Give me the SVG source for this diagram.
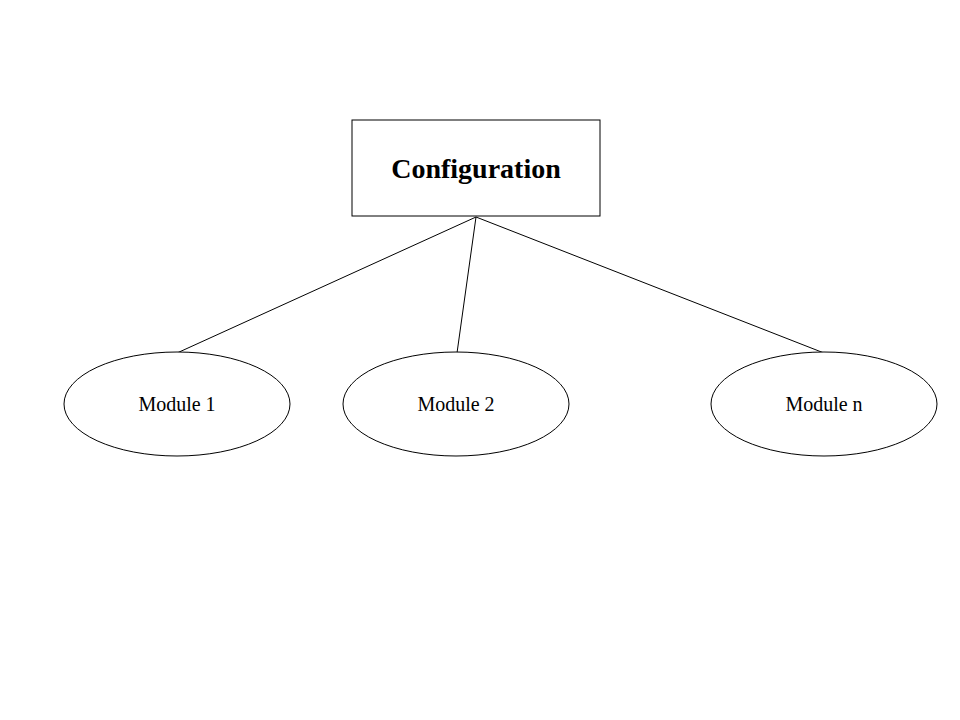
<svg xmlns="http://www.w3.org/2000/svg" width="960" height="720" viewBox="0 0 960 720">
<style>
.s{fill:#fff;stroke:#000;stroke-width:1}
.t{font-family:"Liberation Serif",serif;font-size:20px;text-anchor:middle}
.b{font-size:28px;font-weight:bold}
line{stroke:#000;stroke-width:1}
</style>
<rect width="960" height="720" fill="#fff"/>
<g id="connectors">
<line x1="476" y1="217" x2="177" y2="353"/>
<line x1="476" y1="217" x2="457" y2="353"/>
<line x1="476" y1="217" x2="824" y2="353"/>
</g>
<g id="config"><rect class="s" x="352" y="120" width="248" height="96"/><text class="t b" x="476" y="178">Configuration</text></g>
<g id="m1"><ellipse class="s" cx="177" cy="404" rx="113" ry="52"/><text class="t" x="177" y="411">Module 1</text></g>
<g id="m2"><ellipse class="s" cx="456" cy="404" rx="113" ry="52"/><text class="t" x="456" y="411">Module 2</text></g>
<g id="mn"><ellipse class="s" cx="824" cy="404" rx="113" ry="52"/><text class="t" x="824" y="411">Module n</text></g>
</svg>
